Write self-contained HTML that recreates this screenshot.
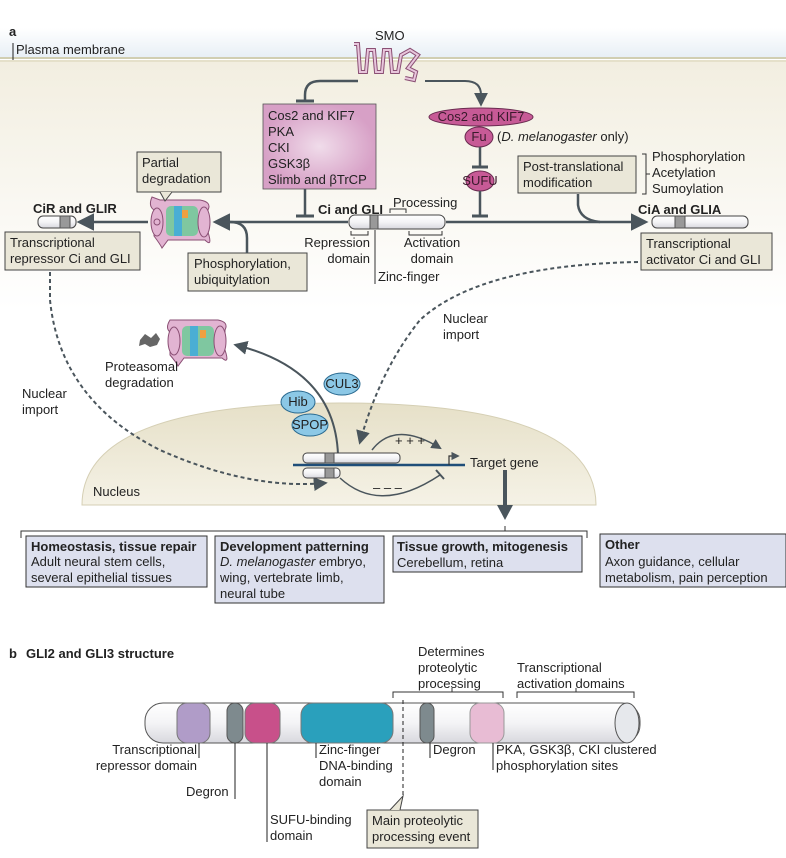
<!DOCTYPE html>
<html><head><meta charset="utf-8"><style>
body{margin:0;background:#fff}
svg{display:block}
text{font-family:"Liberation Sans",sans-serif;font-size:13px;fill:#222}
.b{font-weight:bold}
</style></head><body>
<svg width="786" height="858" viewBox="0 0 786 858" xmlns="http://www.w3.org/2000/svg">
<defs>
<linearGradient id="top" x1="0" y1="0" x2="0" y2="1"><stop offset="0" stop-color="#fff"/><stop offset="1" stop-color="#e6eef5"/></linearGradient>
<linearGradient id="cyt" x1="0" y1="0" x2="0" y2="1"><stop offset="0" stop-color="#f2eee0"/><stop offset="1" stop-color="#fff"/></linearGradient>
<linearGradient id="nuc" x1="0" y1="0" x2="0" y2="1"><stop offset="0" stop-color="#e6e0c8"/><stop offset="1" stop-color="#f5f2e6"/></linearGradient>
<radialGradient id="pk"><stop offset="0" stop-color="#f0dcea"/><stop offset="1" stop-color="#d7a0c6"/></radialGradient>
<linearGradient id="cyl" x1="0" y1="0" x2="0" y2="1"><stop offset="0" stop-color="#fff"/><stop offset="0.5" stop-color="#f4f4f6"/><stop offset="1" stop-color="#d8d8de"/></linearGradient>
<marker id="ar" viewBox="0 0 10 10" refX="8" refY="5" markerWidth="7" markerHeight="7" orient="auto"><path d="M0,0L10,5L0,10z" fill="#4a555c"/></marker>
</defs>
<rect x="0" y="28" width="786" height="31" fill="url(#top)"/>
<rect x="0" y="60" width="786" height="250" fill="url(#cyt)"/>
<line x1="0" y1="58" x2="786" y2="58" stroke="#c9c39c" stroke-width="1.5"/>
<line x1="0" y1="61" x2="786" y2="61" stroke="#d8d3b4" stroke-width="1"/>
<text x="9" y="36" class="b">a</text>
<line x1="13" y1="43" x2="13" y2="60" stroke="#222"/>
<text x="16" y="54" font-size="12">Plasma membrane</text>
<!-- nucleus (behind connectors) -->
<path d="M82,505 Q82,403 340,403 Q596,403 596,505 Z" fill="url(#nuc)" stroke="#d5cfb4"/>
<text x="93" y="496" font-size="12">Nucleus</text>
<!-- SMO -->
<text x="375" y="40" font-size="12">SMO</text>
<path d="M354,44 L358,44 L360,72 L366,72 L368,50 L374,50 L376,72 L382,72 L384,50 L390,50 L392,72 L398,72 L401,55 L410,50 L418,55 L408,68 L416,72 L414,80 L405,78" fill="none" stroke="#8a4f74" stroke-width="4"/>
<path d="M354,44 L358,44 L360,72 L366,72 L368,50 L374,50 L376,72 L382,72 L384,50 L390,50 L392,72 L398,72 L401,55 L410,50 L418,55 L408,68 L416,72 L414,80 L405,78" fill="none" stroke="#e8c6dc" stroke-width="2"/>
<path d="M358,81 L320,81 Q305,81 305,95 L305,100" fill="none" stroke="#4a555c" stroke-width="2.5"/>
<line x1="296" y1="101" x2="314" y2="101" stroke="#4a555c" stroke-width="3"/>
<rect x="263" y="104" width="113" height="85" fill="url(#pk)" stroke="#555" stroke-width="0.8"/>
<text x="268" y="120">Cos2 and KIF7</text>
<text x="268" y="136">PKA</text>
<text x="268" y="152">CKI</text>
<text x="268" y="168">GSK3β</text>
<text x="268" y="184">Slimb and βTrCP</text>
<line x1="305" y1="189" x2="305" y2="215" stroke="#4a555c" stroke-width="2.5"/>
<line x1="296" y1="216" x2="314" y2="216" stroke="#4a555c" stroke-width="3"/>
<path d="M425,81 L465,81 Q481,81 481,95 L481,104" fill="none" stroke="#4a555c" stroke-width="2" marker-end="url(#ar)"/>
<ellipse cx="481" cy="117" rx="52" ry="9" fill="#c75a96" stroke="#6a2b50"/>
<text x="481" y="121" text-anchor="middle" font-size="12" style="fill:#3a1a2c">Cos2 and KIF7</text>
<ellipse cx="479" cy="137" rx="14" ry="10" fill="#c75a96" stroke="#6a2b50"/>
<text x="479" y="141" text-anchor="middle" font-size="12" style="fill:#3a1a2c">Fu</text>
<text x="497" y="141" font-size="12">(<tspan font-style="italic">D. melanogaster</tspan> only)</text>
<line x1="480" y1="147" x2="480" y2="166" stroke="#4a555c" stroke-width="2.5"/>
<line x1="472" y1="167" x2="488" y2="167" stroke="#4a555c" stroke-width="3"/>
<ellipse cx="480" cy="181" rx="14" ry="10" fill="#c75a96" stroke="#6a2b50"/>
<text x="480" y="185" text-anchor="middle" font-size="11" style="fill:#3a1a2c">SUFU</text>
<line x1="480" y1="191" x2="480" y2="215" stroke="#4a555c" stroke-width="2.5"/>
<line x1="472" y1="216" x2="488" y2="216" stroke="#4a555c" stroke-width="3"/>
<line x1="348" y1="222" x2="216" y2="222" stroke="#4a555c" stroke-width="2.5" marker-end="url(#ar)"/>
<line x1="148" y1="222" x2="80" y2="222" stroke="#4a555c" stroke-width="2.5" marker-end="url(#ar)"/>
<line x1="446" y1="222" x2="645" y2="222" stroke="#4a555c" stroke-width="2.5" marker-end="url(#ar)"/>
<text x="318" y="214" class="b">Ci and GLI</text>
<rect x="349" y="215" width="96" height="14" rx="6" fill="url(#cyl)" stroke="#444"/>
<rect x="370" y="215" width="8" height="14" fill="#999" stroke="#555"/>
<path d="M390,213 L390,209 L406,209 L406,213" fill="none" stroke="#333"/>
<text x="393" y="207" font-size="12">Processing</text>
<path d="M351,231 L351,235 L368,235 L368,231" fill="none" stroke="#333"/>
<text x="370" y="247" text-anchor="end" font-size="12">Repression</text>
<text x="370" y="263" text-anchor="end" font-size="12">domain</text>
<line x1="375" y1="230" x2="375" y2="284" stroke="#333"/>
<text x="378" y="281" font-size="12">Zinc-finger</text>
<path d="M409,231 L409,235 L442,235 L442,231" fill="none" stroke="#333"/>
<text x="432" y="247" text-anchor="middle" font-size="12">Activation</text>
<text x="432" y="263" text-anchor="middle" font-size="12">domain</text>
<text x="33" y="213" class="b" font-size="12">CiR and GLIR</text>
<rect x="38" y="216" width="38" height="12" rx="5" fill="url(#cyl)" stroke="#444"/>
<rect x="60" y="216" width="10" height="12" fill="#999" stroke="#555"/>
<rect x="5" y="232" width="135" height="38" fill="#eae7d8" stroke="#444"/>
<text x="10" y="247">Transcriptional</text>
<text x="10" y="263">repressor Ci and GLI</text>
<g>
<path d="M152,197 Q148,206 154,210 L154,236 Q160,244 162,248 L168,240 L205,240 Q213,248 208,232 L208,210 Q212,202 200,200 L160,200 Z" fill="#e2b4d2" stroke="#8a4f74"/>
<ellipse cx="157" cy="222" rx="6" ry="14" fill="#e2b4d2" stroke="#8a4f74"/>
<circle cx="157" cy="222" r="3" fill="none" stroke="#8a4f74"/>
<rect x="166" y="206" width="32" height="30" rx="5" fill="#7fc7a0"/>
<rect x="174" y="206" width="8" height="30" fill="#4aaed4"/>
<rect x="182" y="210" width="6" height="8" fill="#f0a040"/>
<ellipse cx="204" cy="222" rx="6" ry="15" fill="#e2b4d2" stroke="#8a4f74"/>
</g>
<rect x="137" y="152" width="84" height="40" fill="#eae7d8" stroke="#444"/>
<path d="M160,192 L165,201 L172,192" fill="#eae7d8" stroke="#444"/>
<text x="142" y="167">Partial</text>
<text x="142" y="183">degradation</text>
<rect x="188" y="253" width="119" height="38" fill="#eae7d8" stroke="#444"/>
<text x="194" y="268">Phosphorylation,</text>
<text x="194" y="284">ubiquitylation</text>
<path d="M247,253 L247,238 Q247,222 230,222 L215,222" fill="none" stroke="#4a555c" stroke-width="2.5"/>
<text x="638" y="214" class="b" font-size="12">CiA and GLIA</text>
<rect x="652" y="216" width="96" height="12" rx="5" fill="url(#cyl)" stroke="#444"/>
<rect x="675" y="216" width="10" height="12" fill="#999" stroke="#555"/>
<rect x="518" y="156" width="118" height="37" fill="#eae7d8" stroke="#444"/>
<text x="523" y="171">Post-translational</text>
<text x="523" y="187">modification</text>
<path d="M642,154 L646,154 L646,194 L642,194 M646,174 L650,174" fill="none" stroke="#333"/>
<text x="652" y="161">Phosphorylation</text>
<text x="652" y="177">Acetylation</text>
<text x="652" y="193">Sumoylation</text>
<path d="M578,194 L578,205 Q580,220 600,222" fill="none" stroke="#4a555c" stroke-width="2.5"/>
<rect x="641" y="233" width="131" height="37" fill="#eae7d8" stroke="#444"/>
<text x="646" y="248">Transcriptional</text>
<text x="646" y="264">activator Ci and GLI</text>
<!-- dashed curves -->
<path d="M50,272 L50,300 Q60,400 160,450 Q250,490 325,483" fill="none" stroke="#4a555c" stroke-width="2" stroke-dasharray="4,3" marker-end="url(#ar)"/>
<path d="M638,262 Q480,265 420,320 Q380,370 360,442" fill="none" stroke="#4a555c" stroke-width="2" stroke-dasharray="4,3" marker-end="url(#ar)"/>
<text x="22" y="398" font-size="12">Nuclear</text>
<text x="22" y="414" font-size="12">import</text>
<text x="443" y="323" font-size="12">Nuclear</text>
<text x="443" y="339" font-size="12">import</text>
<g>
<path d="M170,320 Q165,328 170,332 L170,355 Q176,362 178,366 L184,358 L222,358 Q230,365 225,350 L225,330 Q229,322 218,320 Z" fill="#e2b4d2" stroke="#8a4f74"/>
<ellipse cx="174" cy="341" rx="6" ry="14" fill="#e2b4d2" stroke="#8a4f74"/>
<rect x="182" y="326" width="32" height="30" rx="5" fill="#7fc7a0"/>
<rect x="190" y="326" width="8" height="30" fill="#4aaed4"/>
<rect x="200" y="330" width="6" height="8" fill="#f0a040"/>
<ellipse cx="220" cy="341" rx="6" ry="15" fill="#e2b4d2" stroke="#8a4f74"/>
<path d="M140,340 l5,-6 l6,4 l5,-5 l4,6 l-3,6 l-7,2 l-5,-3 l-6,2z" fill="#666"/>
</g>
<text x="105" y="371" font-size="12">Proteasomal</text>
<text x="105" y="387" font-size="12">degradation</text>
<path d="M338,455 Q335,370 236,345" fill="none" stroke="#4a555c" stroke-width="2" marker-end="url(#ar)"/>
<ellipse cx="342" cy="384" rx="18" ry="11" fill="#8cc8e6" stroke="#2a6a90"/>
<text x="342" y="388" text-anchor="middle" font-size="12">CUL3</text>
<ellipse cx="298" cy="402" rx="17" ry="11" fill="#8cc8e6" stroke="#2a6a90"/>
<text x="298" y="406" text-anchor="middle" font-size="12">Hib</text>
<ellipse cx="310" cy="425" rx="18" ry="11" fill="#8cc8e6" stroke="#2a6a90"/>
<text x="310" y="429" text-anchor="middle" font-size="12">SPOP</text>
<line x1="293" y1="465" x2="465" y2="465" stroke="#1f4e79" stroke-width="2.5"/>
<rect x="303" y="453" width="97" height="10" rx="4" fill="url(#cyl)" stroke="#444"/>
<rect x="325" y="453" width="9" height="10" fill="#999" stroke="#555"/>
<rect x="303" y="468" width="37" height="10" rx="4" fill="url(#cyl)" stroke="#444"/>
<rect x="325" y="468" width="9" height="10" fill="#999" stroke="#555"/>
<path d="M372,450 Q395,420 440,448" fill="none" stroke="#4a555c" stroke-width="1.5" marker-end="url(#ar)"/>
<text x="395" y="445" font-size="11">+ + +</text>
<path d="M340,478 Q380,515 440,475" fill="none" stroke="#4a555c" stroke-width="1.5"/>
<line x1="436" y1="470" x2="444" y2="479" stroke="#4a555c" stroke-width="2"/>
<text x="373" y="492" font-size="11">– – –</text>
<path d="M449,465 L449,456 L458,456" fill="none" stroke="#333" stroke-width="1.2" marker-end="url(#ar)"/>
<text x="470" y="467" font-size="12">Target gene</text>
<line x1="505" y1="470" x2="505" y2="508" stroke="#4a555c" stroke-width="4"/>
<path d="M497,505 L513,505 L505,520z" fill="#4a555c"/>
<path d="M21,538 L21,531 L587,531 L587,538 M505,531 L505,526" fill="none" stroke="#333"/>
<rect x="26" y="536" width="181" height="51" fill="#dde0ee" stroke="#333"/>
<text x="31" y="551" class="b" font-size="12">Homeostasis, tissue repair</text>
<text x="31" y="566" font-size="12">Adult neural stem cells,</text>
<text x="31" y="582" font-size="12">several epithelial tissues</text>
<rect x="215" y="536" width="169" height="67" fill="#dde0ee" stroke="#333"/>
<text x="220" y="551" class="b" font-size="12">Development patterning</text>
<text x="220" y="566" font-size="12"><tspan font-style="italic">D. melanogaster</tspan> embryo,</text>
<text x="220" y="582" font-size="12">wing, vertebrate limb,</text>
<text x="220" y="598" font-size="12">neural tube</text>
<rect x="393" y="536" width="189" height="36" fill="#dde0ee" stroke="#333"/>
<text x="397" y="551" class="b" font-size="12">Tissue growth, mitogenesis</text>
<text x="397" y="567" font-size="12">Cerebellum, retina</text>
<rect x="600" y="534" width="186" height="53" fill="#dde0ee" stroke="#333"/>
<text x="605" y="549" class="b" font-size="12">Other</text>
<text x="605" y="566" font-size="12">Axon guidance, cellular</text>
<text x="605" y="582" font-size="12">metabolism, pain perception</text>
<text x="9" y="658" class="b" font-size="12">b</text>
<text x="26" y="658" class="b" font-size="11">GLI2 and GLI3 structure</text>
<text x="418" y="656" font-size="12">Determines</text>
<text x="418" y="672" font-size="12">proteolytic</text>
<text x="418" y="688" font-size="12">processing</text>
<path d="M393,698 L393,692 L503,692 L503,698 M452,692 L452,688" fill="none" stroke="#333"/>
<text x="517" y="672" font-size="12">Transcriptional</text>
<text x="517" y="688" font-size="12">activation domains</text>
<path d="M517,698 L517,692 L634,692 L634,698 M576,692 L576,688" fill="none" stroke="#333"/>
<rect x="145" y="703" width="495" height="40" rx="18" fill="url(#cyl)" stroke="#555"/>
<rect x="177" y="703" width="33" height="40" rx="10" fill="#b09cc8" stroke="#777"/>
<rect x="227" y="703" width="16" height="40" rx="8" fill="#7e8a8e" stroke="#555"/>
<rect x="245" y="703" width="35" height="40" rx="10" fill="#c8508a" stroke="#777"/>
<rect x="301" y="703" width="92" height="40" rx="12" fill="#2aa0bc" stroke="#777"/>
<rect x="420" y="703" width="14" height="40" rx="7" fill="#7e8a8e" stroke="#555"/>
<rect x="470" y="703" width="34" height="40" rx="10" fill="#e8bcd4" stroke="#999"/>
<ellipse cx="627" cy="723" rx="12" ry="20" fill="#e6e8ec" stroke="#555"/>
<line x1="403" y1="700" x2="403" y2="796" stroke="#222" stroke-dasharray="4,3"/>
<text x="197" y="754" text-anchor="end" font-size="12">Transcriptional</text>
<text x="197" y="770" text-anchor="end" font-size="12">repressor domain</text>
<line x1="199" y1="743" x2="199" y2="758" stroke="#222"/>
<text x="186" y="796" font-size="12">Degron</text>
<line x1="235" y1="743" x2="235" y2="799" stroke="#222"/>
<line x1="267" y1="743" x2="267" y2="842" stroke="#222"/>
<text x="270" y="824" font-size="12">SUFU-binding</text>
<text x="270" y="840" font-size="12">domain</text>
<line x1="316" y1="743" x2="316" y2="758" stroke="#222"/>
<text x="319" y="754" font-size="12">Zinc-finger</text>
<text x="319" y="770" font-size="12">DNA-binding</text>
<text x="319" y="786" font-size="12">domain</text>
<line x1="430" y1="743" x2="430" y2="758" stroke="#222"/>
<text x="433" y="754" font-size="12">Degron</text>
<line x1="493" y1="743" x2="493" y2="770" stroke="#222"/>
<text x="496" y="754" font-size="12">PKA, GSK3β, CKI clustered</text>
<text x="496" y="770" font-size="12">phosphorylation sites</text>
<rect x="367" y="810" width="111" height="38" fill="#eae7d8" stroke="#444"/>
<path d="M390,810 L403,796 L400,810" fill="#eae7d8" stroke="#444"/>
<text x="372" y="825" font-size="12">Main proteolytic</text>
<text x="372" y="841" font-size="12">processing event</text>
</svg>
</body></html>
